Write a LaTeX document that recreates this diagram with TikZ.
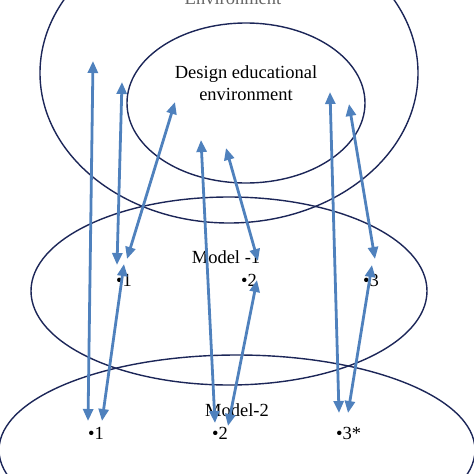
\documentclass[tikz,border=0pt]{standalone}
\usepackage{fontspec}
\setmainfont{Liberation Serif}
\usetikzlibrary{arrows.meta}
\definecolor{ringc}{RGB}{28,38,88}
\definecolor{arrc}{RGB}{79,129,189}
\begin{document}
\begin{tikzpicture}[x=1pt,y=-1pt,
  ring/.style={draw=ringc,line width=1.4pt},
  lbl/.style={font=\fontsize{18.5}{22}\selectfont,inner sep=0pt,anchor=base},
  pt/.style={font=\fontsize{18.5}{22}\selectfont,inner sep=0pt,anchor=base west},
  link/.style={draw=arrc,line width=2.8pt,{Triangle[width=10pt,length=12pt]}-{Triangle[width=10pt,length=12pt]}}]
\useasboundingbox (0,0) rectangle (474,474);
\clip (0,0) rectangle (474,474);
% ellipses
\draw[ring] (229,73) ellipse [x radius=189pt, y radius=150pt];
\draw[ring] (246,103) ellipse [x radius=119pt, y radius=80pt];
\draw[ring] (229,291) ellipse [x radius=198pt, y radius=94pt];
\draw[ring] (237,450) ellipse [x radius=238pt, y radius=95pt];
% labels
\node[lbl,text=black!60] (env) at (233,4) {Environment};
\node[font=\fontsize{18.5}{22}\selectfont,inner sep=0pt,align=center] (design) at (246,83) {Design educational\\environment};
\node[lbl] (m1) at (226,263) {Model -1};
\node[lbl] (m2) at (237,416) {Model-2};
\node[pt] (p11) at (116,286) {•1};
\node[pt] (p12) at (241,286) {•2};
\node[pt] (p13) at (363,286) {•3};
\node[pt] (p21) at (88,439) {•1};
\node[pt] (p22) at (212,439) {•2};
\node[pt] (p23) at (336,439) {•3*};
% arrow end points
\coordinate (a1t) at (93,61);   \coordinate (a1b) at (88,421);
\coordinate (a2t) at (122,82);  \coordinate (a2b) at (117,265);
\coordinate (a3t) at (175,102); \coordinate (a3b) at (127,259);
\coordinate (a4t) at (201,140); \coordinate (a4b) at (215,423);
\coordinate (a5t) at (226,148); \coordinate (a5b) at (258,261);
\coordinate (a6t) at (330,92);  \coordinate (a6b) at (339,413);
\coordinate (a7t) at (349,104); \coordinate (a7b) at (375,259);
\coordinate (b1t) at (124,264); \coordinate (b1b) at (102,421);
\coordinate (b2t) at (257,280); \coordinate (b2b) at (228,426);
\coordinate (b3t) at (372,265); \coordinate (b3b) at (348,413);
% connectors
\draw[link] (a1t) -- (a1b);
\draw[link] (a2t) -- (a2b);
\draw[link] (a3t) -- (a3b);
\draw[link] (a4t) -- (a4b);
\draw[link] (a5t) -- (a5b);
\draw[link] (a6t) -- (a6b);
\draw[link] (a7t) -- (a7b);
\draw[link] (b1t) -- (b1b);
\draw[link] (b2t) -- (b2b);
\draw[link] (b3t) -- (b3b);
\end{tikzpicture}
\end{document}
